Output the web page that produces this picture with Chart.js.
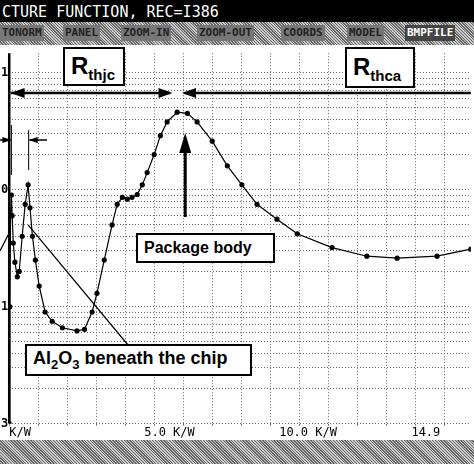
<!DOCTYPE html>
<html><head><meta charset="utf-8">
<script src="https://cdn.jsdelivr.net/npm/chart.js@4"></script>
<style>
body{margin:0;width:474px;height:474px;overflow:hidden;background:#fff;position:relative;font-family:"DejaVu Sans Mono",monospace}
#title{position:absolute;left:0;top:0;width:474px;height:22px;background:#000;color:#fff;font-size:15px;line-height:24px;padding-left:2px;white-space:nowrap}
.dith{background-color:#aaa;background-image:repeating-linear-gradient(45deg,#666 0 1px,#ccc 1px 2px)}
#menu{position:absolute;left:0;top:22px;width:474px;height:23px}
.btn{position:absolute;top:3px;height:16px;background:#777;color:#222;font-size:11px;font-weight:bold;line-height:16px;padding:0 2px;white-space:nowrap}
#bot{position:absolute;left:0;top:440px;width:474px;height:24px}
canvas{position:absolute;left:0;top:0}
.box{position:absolute;background:#fff;border:2px solid #000;font-family:Arial,"Liberation Sans",sans-serif;font-weight:bold;color:#000;white-space:nowrap;box-sizing:border-box}
</style></head><body>
<div id="title">CTURE FUNCTION, REC=I386</div>
<div id="menu" class="dith">
<span class="btn" style="left:0">TONORM</span><span class="btn" style="left:63px">PANEL</span><span class="btn" style="left:121px">ZOOM-IN</span><span class="btn" style="left:197px">ZOOM-OUT</span><span class="btn" style="left:281px">COORDS</span><span class="btn" style="left:347px">MODEL</span><span class="btn" style="left:405px;background:#444;color:#fff">BMPFILE</span>
</div>
<div id="bot" class="dith"></div>
<div style="position:absolute;left:0;top:45px;width:474px;height:395px"><canvas id="c" width="474" height="395"></canvas></div>
<div class="box" style="left:63px;top:47px;width:62px;height:39px;font-size:24px;line-height:34px;padding-left:6px">R<sub style="font-size:15px">thjc</sub></div>
<div class="box" style="left:345px;top:47px;width:70px;height:41px;font-size:24px;line-height:36px;padding-left:6px">R<sub style="font-size:15px">thca</sub></div>
<div class="box" style="left:136px;top:233px;width:139px;height:30px;font-size:16px;line-height:26px;padding-left:6px">Package body</div>
<div class="box" style="left:25px;top:344px;width:227px;height:32px;font-size:18px;line-height:24px;padding-left:6px">Al<sub style="font-size:13px">2</sub>O<sub style="font-size:13px">3</sub> beneath the chip</div>
<script>
const xVals=[0,0.02,0.05,0.08,0.11,0.15,0.21,0.3,0.37,0.48,0.59,0.7,0.77,0.86,0.97,1.11,1.33,1.59,1.97,2.51,2.79,3.07,3.25,3.52,3.81,4.0,4.19,4.37,4.55,4.74,4.93,5.11,5.37,5.6,5.85,6.22,6.6,6.96,7.52,8.08,8.62,9.18,9.92,10.67,11.96,13.25,14.37,15.85,17.1];
const yVals=[0.01,0.1,0.6,0.9,0.6,0.35,0.24,0.18,0.2,0.4,0.75,1.1,0.7,0.4,0.25,0.15,0.09,0.075,0.066,0.062,0.064,0.09,0.13,0.25,0.5,0.75,0.86,0.83,0.86,0.91,1.1,1.4,2.0,2.9,3.8,4.6,4.5,3.8,2.6,1.6,1.1,0.75,0.56,0.42,0.32,0.27,0.26,0.27,0.31];
const yDecades=[0.01,0.1,1,10];
const yDecadeLabels=["3","1","0","1"];
const xLabelValues=[0,5,10,14.9];
const xLabelTexts=["K/W","5.0 K/W","10.0 K/W","14.9"];
const data=xVals.map((x,i)=>({x,y:yVals[i]}));
const anno={id:'anno',afterDatasetsDraw(ch){
 const c=ch.ctx,a=ch.chartArea,X=v=>ch.scales.x.getPixelForValue(v),Y=v=>ch.scales.y.getPixelForValue(v);
 c.save();c.strokeStyle='#000';c.fillStyle='#000';
 c.lineWidth=2.5;c.beginPath();c.moveTo(a.left,a.top);c.lineTo(a.left,a.bottom);c.stroke();
 function head(x,y,dir,len=12,w=5){c.beginPath();c.moveTo(x,y);c.lineTo(x-dir*len,y-w);c.lineTo(x-dir*len,y+w);c.closePath();c.fill();}
 const yh=48;c.lineWidth=2.5;
 c.beginPath();c.moveTo(X(0.05),yh);c.lineTo(X(5.95),yh);c.stroke();
 c.beginPath();c.moveTo(X(6.5),yh);c.lineTo(a.right,yh);c.stroke();
 head(X(0.05),yh,-1,14);head(X(6.05),yh,1,14);head(X(6.4),yh,-1,14);
 c.lineWidth=1.5;const ys=95;
 c.beginPath();c.moveTo(0,ys);c.lineTo(X(0.05),ys);c.stroke();head(X(0.08),ys,1,9,3);
 c.beginPath();c.moveTo(X(0.75),ys);c.lineTo(X(1.4),ys);c.stroke();head(X(0.72),ys,-1,9,3);
 c.lineWidth=1;c.beginPath();c.moveTo(X(0.08),80);c.lineTo(X(0.08),130);c.moveTo(X(0.72),85);c.lineTo(X(0.72),125);c.stroke();
 c.lineWidth=3;c.beginPath();c.moveTo(X(6.52),172);c.lineTo(X(6.52),100);c.stroke();
 c.beginPath();c.moveTo(X(6.52),88);c.lineTo(X(6.52)-6,108);c.lineTo(X(6.52)+6,108);c.closePath();c.fill();
 c.lineWidth=1.2;c.beginPath();c.moveTo(X(0.7),Y(0.5));c.lineTo(X(4.4),300);c.moveTo(0,Y(0.3));c.lineTo(X(0.05),Y(0.45));c.stroke();
 c.restore();}};
const gridStep=29/27;
new Chart(document.getElementById('c'),{type:'scatter',data:{datasets:[{data,showLine:true,borderColor:'#000',backgroundColor:'#000',borderWidth:1.2,pointRadius:2,pointHoverRadius:2,tension:0}]},
options:{responsive:false,animation:false,layout:{padding:{left:0,right:0,top:0,bottom:0}},plugins:{legend:{display:false},tooltip:{enabled:false}},
scales:{x:{type:'linear',min:0,max:17.1,afterBuildTicks(s){const t=[];for(let i=0;i*gridStep<=17.1;i++)t.push({value:i*gridStep,g:1});xLabelValues.forEach(v=>{if(v>0)t.push({value:v,g:0});});t.sort((p,q)=>p.value-q.value);s.ticks=t;},
 ticks:{autoSkip:false,maxRotation:0,align:'start',padding:0,color:'#000',font:{family:'DejaVu Sans Mono',size:12},callback:v=>{const i=xLabelValues.findIndex(d=>Math.abs(d-v)<1e-6);return i>=0?xLabelTexts[i]:'';}},
 grid:{color:ctx=>(ctx.tick&&ctx.tick.g===0)?'rgba(0,0,0,0)':'#666',lineWidth:1,tickLength:2},border:{display:false,dash:[1,2]}},
y:{type:'logarithmic',min:0.01,max:14.7,afterBuildTicks(s){const t=[];for(const d of [0.01,0.1,1,10])for(let k=1;k<10;k++){const v=d*k;if(v<=14.7)t.push({value:v});}s.ticks=t;},
 ticks:{autoSkip:false,padding:1,color:'#000',font:{family:'DejaVu Sans Mono',size:12,weight:'bold'},callback:v=>{const i=yDecades.findIndex(d=>Math.abs(d-v)<d*1e-6);return i>=0?yDecadeLabels[i]:'';}},
 grid:{color:'#666',lineWidth:1,tickLength:0},border:{display:false,dash:[1,2]}}}},
plugins:[anno]});
</script></body></html>
